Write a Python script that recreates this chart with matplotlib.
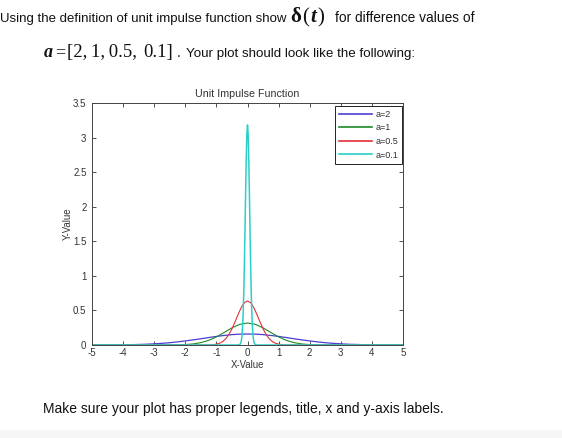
import matplotlib
matplotlib.use("Agg")
import matplotlib.pyplot as plt
from matplotlib.patches import Rectangle

# ---------------- data ----------------
labels = ["a=2", "a=1", "a=0.5", "a=0.1"]

x_a2 = [-5, -4.75, -4.5, -4.25, -4, -3.75, -3.5, -3.25, -3, -2.75, -2.5, -2.25, -2, -1.75,
        -1.5, -1.25, -1, -0.75, -0.5, -0.25, 0, 0.25, 0.5, 0.75, 1, 1.25, 1.5, 1.75, 2,
        2.25, 2.5, 2.75, 3, 3.25, 3.5, 3.75, 4, 4.25, 4.5, 4.75, 5]
y_a2 = [0.0003, 0.0006, 0.001, 0.0017, 0.0029, 0.0047, 0.0075, 0.011, 0.017, 0.024, 0.033,
        0.045, 0.059, 0.074, 0.090, 0.108, 0.124, 0.138, 0.150, 0.157, 0.159, 0.157, 0.150,
        0.138, 0.124, 0.108, 0.090, 0.074, 0.059, 0.045, 0.033, 0.024, 0.017, 0.011, 0.0075,
        0.0047, 0.0029, 0.0017, 0.001, 0.0006, 0.0003]

x_a1 = [-5, -3, -2.5, -2.25, -2, -1.75, -1.5, -1.25, -1, -0.75, -0.5, -0.25, 0, 0.25, 0.5,
        0.75, 1, 1.25, 1.5, 1.75, 2, 2.25, 2.5, 3, 5]
y_a1 = [0, 0, 0.0006, 0.002, 0.006, 0.015, 0.034, 0.067, 0.117, 0.181, 0.248, 0.299, 0.318,
        0.299, 0.248, 0.181, 0.117, 0.067, 0.034, 0.015, 0.006, 0.002, 0.0006, 0, 0]

x_a05 = [-5, -1.5, -1.2, -1.1, -1.0, -0.9, -0.8, -0.7, -0.6, -0.5, -0.4, -0.3, -0.2, -0.1, 0,
         0.1, 0.2, 0.3, 0.4, 0.5, 0.6, 0.7, 0.8, 0.9, 1.0, 1.1, 1.2, 1.5, 5]
y_a05 = [0, 0, 0.002, 0.005, 0.012, 0.025, 0.049, 0.090, 0.151, 0.234, 0.336, 0.444, 0.543,
         0.612, 0.637, 0.612, 0.543, 0.444, 0.336, 0.234, 0.151, 0.090, 0.049, 0.025, 0.012,
         0.005, 0.002, 0, 0]

x_a01 = [-5, -0.3, -0.24, -0.22, -0.2, -0.18, -0.16, -0.14, -0.12, -0.1, -0.08, -0.06, -0.04,
         -0.02, 0, 0.02, 0.04, 0.06, 0.08, 0.1, 0.12, 0.14, 0.16, 0.18, 0.2, 0.22, 0.24, 0.3, 5]
y_a01 = [0, 0, 0.010, 0.025, 0.058, 0.125, 0.246, 0.449, 0.754, 1.171, 1.678, 2.221, 2.713,
         3.058, 3.183, 3.058, 2.713, 2.221, 1.678, 1.171, 0.754, 0.449, 0.246, 0.125, 0.058,
         0.025, 0.010, 0, 0]

x_ticks = [-5, -4, -3, -2, -1, 0, 1, 2, 3, 4, 5]
y_ticks = [0, 0.5, 1, 1.5, 2, 2.5, 3, 3.5]
y_tick_labels = ["0", "0.5", "1", "1.5", "2", "2.5", "3", "3.5"]

title = "Unit Impulse Function"
x_label = "X-Value"
y_label = "Y-Value"

# ---------------- figure ----------------
W, H = 562, 438
fig = plt.figure(figsize=(W / 100, H / 100), dpi=100)
fig.patch.set_facecolor("white")

def px(x, y):
    return x / W, 1 - y / H

# grey band at bottom of the screenshot
fig.patches.append(Rectangle((0, 0), 1, 8 / H, transform=fig.transFigure,
                             facecolor="#f6f6f6", edgecolor="none", zorder=0))

sans = "Liberation Sans"
serif = ["Liberation Serif", "DejaVu Serif"]
renderer = fig.canvas.get_renderer()

def fit_text(x0, x1, yb, s, family, size=10):
    t = fig.text(*px(x0, yb), s, ha="left", va="baseline", family=family,
                 fontsize=size, color="#111111")
    w = t.get_window_extent(renderer).width
    t.set_fontsize(size * (x1 - x0) / w)
    return t

def fixed_text(x0, yb, s, size, weight="normal", style="normal", family=serif):
    return fig.text(*px(x0, yb), s, ha="left", va="baseline", family=family,
                    fontsize=size, weight=weight, style=style, color="#111111")

def seq_text(x0, yb, pieces, gap=1.0):
    x = x0
    for s, size, weight, style in pieces:
        t = fixed_text(x, yb, s, size, weight=weight, style=style)
        x += t.get_window_extent(renderer).width + gap
    return x

# line 1
fit_text(0, 287, 22, "Using the definition of unit impulse function show", sans)
seq_text(290, 22, [("δ", 15, "bold", "normal"), ("(", 15, "normal", "normal"),
                   ("t", 15, "bold", "italic"), (")", 15, "normal", "normal")], gap=1.2)
fit_text(335, 475, 22, "for difference values of", sans)
# line 2
fixed_text(44, 57, "a", 13, weight="bold", style="italic")
fixed_text(55, 57, "=", 13)
fixed_text(67, 57, "[2,\u20091,\u20090.5,", 13.5)
fixed_text(143, 57, "0.1]", 13.5)
fixed_text(177, 57, ".", 10, family=sans)
fit_text(186, 417, 57, "Your plot should look like the following:", sans)
# bottom line
fit_text(43, 442, 413, "Make sure your plot has proper legends, title, x and y-axis labels.", sans)

# axes
ax_l, ax_r, ax_t, ax_b = 92, 403, 103, 345
ax = fig.add_axes([ax_l / W, 1 - ax_b / H, (ax_r - ax_l) / W, (ax_b - ax_t) / H])

colors = ["#4a3ed0", "#1f8a2a", "#e0303a", "#2ad0c8"]
series = [(x_a2, y_a2), (x_a1, y_a1), (x_a05, y_a05), (x_a01, y_a01)]
lws = [0.9, 0.8, 0.8, 1.1]
for (xs, ys), c, lab, lw in zip(series, colors, labels, lws):
    ax.plot(xs, ys, color=c, lw=lw, label=lab)

ax.set_xlim(-5, 5)
ax.set_ylim(0, 3.5)
ax.set_xticks(x_ticks)
ax.set_yticks(y_ticks)
tfs = 7
ax.set_xticklabels([str(v) for v in x_ticks], fontsize=tfs, family=sans)
ax.set_yticklabels(y_tick_labels, fontsize=tfs, family=sans)

ax.tick_params(direction="in", length=3, width=0.6, top=True, right=True,
               labelcolor="#333333", color="#333333")
ax.tick_params(axis="y", pad=4)
ax.tick_params(axis="x", pad=2.5)
for sp in ax.spines.values():
    sp.set_linewidth(0.7)
    sp.set_color("#444444")

ax.set_title(title, fontsize=7.7, family=sans, color="#333333", pad=4)
ax.set_xlabel(x_label, fontsize=6.9, family=sans, color="#333333", labelpad=1)
ax.set_ylabel(y_label, fontsize=6.9, family=sans, color="#333333", labelpad=0)

leg = ax.legend(loc="upper right", bbox_to_anchor=(0.997, 0.988),
                frameon=True, fancybox=False, edgecolor="#222222", framealpha=1,
                handlelength=3.6, handletextpad=0.4, labelspacing=0.5,
                borderpad=0.45, borderaxespad=0.0, prop={"family": sans, "size": 6.5})
leg.get_frame().set_linewidth(0.7)
for h in leg.get_lines():
    h.set_linewidth(1.2)
for t in leg.get_texts():
    t.set_color("#333333")

fig.savefig("out.png", dpi=100)
